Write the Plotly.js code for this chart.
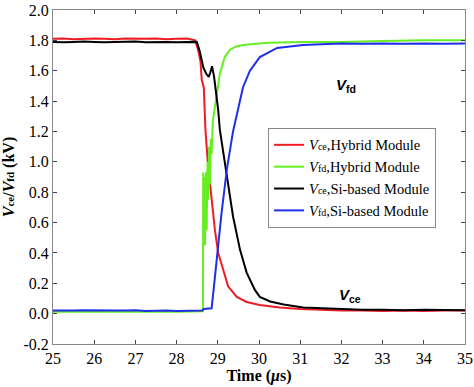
<!DOCTYPE html>
<html>
<head>
<meta charset="utf-8">
<script src="https://cdn.plot.ly/plotly-3.0.1.min.js"></script>
<style>html,body{margin:0;padding:0;background:#fff;}#chart{width:474px;height:387px;}</style>
</head>
<body>
<div id="chart"></div>
<script>
// Vce, Hybrid Module (red)
var tVceHybrid = [25, 25.25, 25.5, 25.75, 26, 26.25, 26.5, 26.75, 27, 27.25, 27.5, 27.75, 28, 28.25, 28.45, 28.52, 28.58, 28.61, 28.66, 28.68, 28.70, 28.76, 28.85, 28.93, 29.01, 29.13, 29.25, 29.46, 29.70, 30.02, 30.5, 31, 31.5, 32, 32.5, 33, 33.5, 34, 34.5, 35];
var vVceHybrid = [1.81, 1.813, 1.808, 1.81, 1.813, 1.81, 1.808, 1.812, 1.81, 1.81, 1.813, 1.808, 1.81, 1.812, 1.80, 1.74, 1.66, 1.54, 1.49, 1.34, 1.21, 0.99, 0.73, 0.55, 0.40, 0.29, 0.18, 0.11, 0.077, 0.057, 0.04, 0.03, 0.025, 0.02, 0.02, 0.017, 0.02, 0.017, 0.02, 0.02];

// Vfd, Hybrid Module (green)
var tVfdHybrid = [25, 25.25, 25.5, 25.75, 26, 26.25, 26.5, 26.75, 27, 27.25, 27.5, 27.75, 28, 28.25, 28.5, 28.64, 28.645, 28.66, 28.67, 28.69, 28.71, 28.73, 28.75, 28.77, 28.79, 28.81, 28.83, 28.85, 28.88, 28.93, 28.98, 29.05, 29.17, 29.30, 29.45, 29.61, 30.0, 30.27, 31, 32, 33, 34, 35];
var vVfdHybrid = [0.012, 0.014, 0.012, 0.012, 0.014, 0.012, 0.012, 0.014, 0.012, 0.012, 0.014, 0.012, 0.012, 0.014, 0.012, 0.015, 0.93, 0.47, 0.90, 0.45, 0.93, 0.55, 1.00, 0.75, 1.10, 0.85, 1.15, 1.05, 1.27, 1.37, 1.45, 1.58, 1.69, 1.74, 1.76, 1.77, 1.78, 1.785, 1.79, 1.79, 1.795, 1.80, 1.80];

// Vce, Si-based Module (black)
var tVceSi = [25, 25.25, 25.5, 25.75, 26, 26.25, 26.5, 26.75, 27, 27.25, 27.5, 27.75, 28, 28.25, 28.49, 28.56, 28.62, 28.65, 28.72, 28.78, 28.82, 28.86, 28.91, 28.97, 29.01, 29.05, 29.13, 29.21, 29.29, 29.37, 29.54, 29.70, 29.90, 30.02, 30.27, 30.6, 31.07, 31.5, 32, 32.5, 33, 33.5, 34, 34.5, 35];
var vVceSi = [1.79, 1.787, 1.79, 1.793, 1.79, 1.787, 1.79, 1.79, 1.793, 1.787, 1.79, 1.79, 1.787, 1.79, 1.79, 1.73, 1.66, 1.62, 1.58, 1.56, 1.59, 1.63, 1.56, 1.43, 1.34, 1.21, 1.07, 0.93, 0.78, 0.64, 0.42, 0.27, 0.156, 0.11, 0.08, 0.06, 0.04, 0.035, 0.03, 0.025, 0.025, 0.022, 0.025, 0.022, 0.022];

// Vfd, Si-based Module (blue)
var tVfdSi = [25, 25.25, 25.5, 25.75, 26, 26.25, 26.5, 26.75, 27, 27.25, 27.5, 27.75, 28, 28.25, 28.5, 28.62, 28.66, 28.85, 28.93, 29.01, 29.09, 29.22, 29.30, 29.37, 29.47, 29.61, 29.78, 30.02, 30.44, 31.07, 31.5, 32, 32.5, 33, 33.5, 34, 34.5, 35];
var vVfdSi = [0.02, 0.018, 0.02, 0.022, 0.02, 0.018, 0.02, 0.02, 0.022, 0.018, 0.02, 0.02, 0.018, 0.02, 0.02, 0.02, 0.03, 0.035, 0.24, 0.465, 0.66, 0.95, 1.10, 1.20, 1.32, 1.49, 1.60, 1.69, 1.75, 1.77, 1.775, 1.78, 1.777, 1.78, 1.777, 1.78, 1.777, 1.78];

var xTicks = [25, 26, 27, 28, 29, 30, 31, 32, 33, 34, 35];
var yTicks = [-0.2, 0.0, 0.2, 0.4, 0.6, 0.8, 1.0, 1.2, 1.4, 1.6, 1.8, 2.0];
var yTickText = ['-0.2', '0.0', '0.2', '0.4', '0.6', '0.8', '1.0', '1.2', '1.4', '1.6', '1.8', '2.0'];

var subCe = '<span style="font-size:10px">ce</span>';
var subFd = '<span style="font-size:10px">fd</span>';
var seriesNames = [
  '<i>V</i>' + subCe + ',Hybrid Module',
  '<i>V</i>' + subFd + ',Hybrid Module',
  '<i>V</i>' + subCe + ',Si-based Module',
  '<i>V</i>' + subFd + ',Si-based Module'
];
var seriesColors = ['#ee1c24', '#66ee22', '#000000', '#1f2fe8'];

var xs = [tVceHybrid, tVfdHybrid, tVceSi, tVfdSi];
var ys = [vVceHybrid, vVfdHybrid, vVceSi, vVfdSi];

var data = xs.map(function (x, i) {
  return {
    x: x, y: ys[i], type: 'scatter', mode: 'lines', name: seriesNames[i],
    line: {color: seriesColors[i], width: 2}
  };
});

var serif = 'Liberation Serif';
var sans = 'Liberation Sans';

var layout = {
  width: 474, height: 387,
  margin: {l: 53, r: 9, t: 10, b: 43},
  paper_bgcolor: '#fff', plot_bgcolor: '#fff',
  font: {family: serif, size: 15, color: '#000'},
  showlegend: true,
  legend: {
    x: 0.522, y: 0.647, xanchor: 'left', yanchor: 'top',
    bordercolor: '#888', borderwidth: 1, bgcolor: '#fff',
    font: {family: serif, size: 14.5, color: '#000'},
    tracegroupgap: 0, itemwidth: 30
  },
  xaxis: {
    range: [25, 35], tickvals: xTicks, ticks: 'inside', ticklen: 4,
    tickcolor: '#444', showline: true, linecolor: '#888', linewidth: 1,
    mirror: 'ticks', showgrid: false, zeroline: false,
    tickfont: {family: serif, size: 16},
    title: {text: '<b>Time (<i>μ</i>s)</b>', font: {family: serif, size: 16}, standoff: 2}
  },
  yaxis: {
    range: [-0.2, 2.0], tickvals: yTicks, ticktext: yTickText, ticks: 'inside', ticklen: 4,
    tickcolor: '#444', showline: true, linecolor: '#888', linewidth: 1,
    mirror: 'ticks', showgrid: false, zeroline: false,
    tickfont: {family: serif, size: 16},
    title: {text: '<b><i>V</i><span style="font-size:11px">ce</span>/<i>V</i><span style="font-size:11px">fd</span> (kV)</b>', font: {family: serif, size: 16}, standoff: 4}
  },
  annotations: [
    {x: 32.1, y: 1.5, xref: 'x', yref: 'y', showarrow: false,
     text: '<b><i>V</i><sub>fd</sub></b>', font: {family: sans, size: 15, color: '#000'}},
    {x: 32.2, y: 0.12, xref: 'x', yref: 'y', showarrow: false,
     text: '<b><i>V</i><sub>ce</sub></b>', font: {family: sans, size: 15, color: '#000'}}
  ]
};

Plotly.newPlot('chart', data, layout, {displayModeBar: false, staticPlot: true});
</script>
</body>
</html>
